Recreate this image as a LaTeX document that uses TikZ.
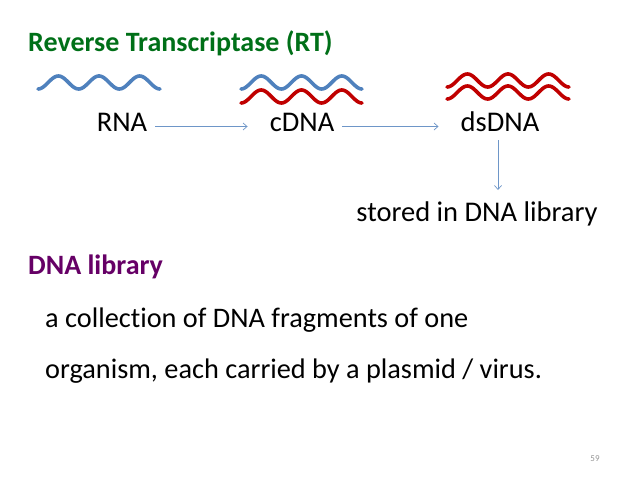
\documentclass[tikz,border=0pt]{standalone}
\usepackage{fontspec}
\setmainfont{Carlito}[Ligatures=NoCommon]
\usetikzlibrary{arrows.meta}
\definecolor{rtgreen}{RGB}{0,112,24}
\definecolor{libpurple}{RGB}{102,0,102}
\definecolor{rnablue}{RGB}{79,129,189}
\definecolor{dnared}{RGB}{192,0,0}
\definecolor{arrblue}{RGB}{110,150,200}
\definecolor{pagegray}{RGB}{150,150,150}
\tikzset{
  strand/.style={line width=3.6pt, line join=round, line cap=round},
  conn/.style={draw=arrblue, line width=0.7pt, -{Straight Barb[length=4pt,width=7pt]}},
  lbl/.style={font=\fontsize{28.5}{32}\selectfont, inner sep=0pt, anchor=base},
  body/.style={font=\fontsize{28.3}{32}\selectfont, inner sep=0pt, anchor=base west},
  head/.style={font=\fontsize{28}{32}\selectfont\bfseries, inner sep=0pt, anchor=base west}
}
\newcommand\mywave[5]{%
  \draw[strand,#5] plot[domain=#1:#2, samples=90, smooth] (\x,{#3+#4*cos(((\x)-(#1))/(((#2)-(#1))/3)*360)});}
\begin{document}
\begin{tikzpicture}[x=1pt,y=-1pt]
\useasboundingbox[fill=white] (0,0) rectangle (638,479);
\node[head, text=rtgreen] (title) at (28,52) {Reverse Transcriptase (RT)};
% strands
\mywave{38}{160}{82.5}{6.5}{rnablue}
\mywave{241}{362}{82.5}{6.5}{rnablue}
\mywave{241}{362}{96.5}{6.5}{dnared}
\mywave{447}{569}{80.5}{6.5}{dnared}
\mywave{447}{569}{92.5}{6.5}{dnared}
% labels
\node[lbl] (rna) at (122,131) {RNA};
\node[lbl] (cdna) at (302,131) {cDNA};
\node[lbl] (dsdna) at (500,131) {dsDNA};
\node[lbl] (stored) at (477,221) {stored in DNA library};
\coordinate (arrowy) at (0,126.5);
\coordinate (vx) at (498,0);
\draw[conn] ([xshift=8pt]rna.east |- arrowy) -- ([xshift=-22pt]cdna.west |- arrowy);
\draw[conn] ([xshift=8pt]cdna.east |- arrowy) -- ([xshift=-22pt]dsdna.west |- arrowy);
\draw[conn] ([yshift=-9pt]dsdna.base -| vx) -- ([yshift=31pt]stored.base -| vx);
\node[head, text=libpurple] (lib) at (28,274) {DNA library};
\node[body] (line1) at (45,327) {a collection of DNA fragments of one};
\node[body] (line2) at (45,378) {organism, each carried by a plasmid / virus.};
\node[font=\fontsize{9}{10}\selectfont, text=pagegray, inner sep=0pt, anchor=base] (page) at (595,461) {59};
\end{tikzpicture}
\end{document}
